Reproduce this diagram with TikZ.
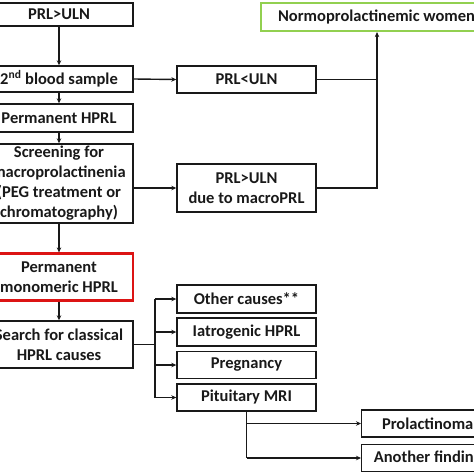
\documentclass[tikz,border=0pt]{standalone}
\usepackage{fontspec}
\setmainfont{Carlito}
\usetikzlibrary{arrows.meta}
\definecolor{boxred}{RGB}{220,20,20}
\definecolor{boxgreen}{RGB}{146,208,80}
\definecolor{ink}{RGB}{25,25,25}
\begin{document}
\begin{tikzpicture}[x=1pt,y=-1pt,
  every node/.style={font=\fontsize{16.5}{20}\selectfont\bfseries, text=ink, align=center, inner sep=0pt},
  lbox/.style={draw=ink, line width=1.4pt, minimum width=148pt},
  rbox/.style={draw=ink, line width=1.4pt, minimum width=139pt},
  fbox/.style={draw=ink, line width=1.4pt, minimum width=132pt, minimum height=27pt, anchor=west},
  arr/.style={draw=ink, line width=1.4pt, -{Stealth[length=5pt,width=4.5pt]}},
  ln/.style={draw=ink, line width=1.4pt}]
\useasboundingbox (0,0) rectangle (474,474);
\begin{scope}
\clip (0,0) rectangle (474,474);
% left column
\node[lbox, minimum height=23pt] (a) at (59,14.5) {PRL>ULN};
\node[lbox, minimum height=26pt] (b) at (59,79) {2\textsuperscript{nd} blood sample};
\node[lbox, minimum height=28pt] (c) at (59,118) {Permanent HPRL};
\node[lbox, minimum height=79pt] (d) at (59,183.5) {Screening for\\macroprolactinenia\\(PEG treatment or\\chromatography)};
\node[lbox, draw=boxred, line width=2.2pt, minimum height=47pt] (e) at (59,277) {Permanent\\monomeric HPRL};
\node[lbox, minimum height=47pt] (f) at (59,344.5) {Search for classical\\HPRL causes};
% right column
\node[rbox, minimum height=27pt] (g) at (246.5,79.5) {PRL<ULN};
\node[rbox, minimum height=48pt] (h) at (246.5,188) {PRL>ULN\\due to macroPRL};
\node[draw=boxgreen, line width=2.2pt, minimum height=28pt, anchor=west, inner xsep=17pt] (n) at (260,17) {Normoprolactinemic women};
\node[rbox, minimum height=28pt] (i1) at (246.5,299) {Other causes**};
\node[rbox, minimum height=28pt] (i2) at (246.5,332) {Iatrogenic HPRL};
\node[rbox, minimum height=27pt] (i3) at (246.5,365) {Pregnancy};
\node[rbox, minimum height=27pt] (i4) at (246.5,397.5) {Pituitary MRI};
\node[fbox] (p) at (361,423.5) {Prolactinoma};
\node[fbox] (q) at (361,458) {Another finding};
% connectors
\draw[arr] (a) -- (b);
\draw[arr] (b) -- (c);
\draw[arr] (c) -- (d);
\draw[arr] (d) -- (e);
\draw[arr] (e) -- (f);
\draw[arr] (b.east) -- (g.west);
\draw[arr] (d.east |- h.west) -- (h.west);
\coordinate (j) at (377,79.5);
\draw[ln] (g.east) -- (j);
\draw[arr] (h.east) -| (n.south -| j);
\coordinate (k) at (155,344.5);
\draw[ln] (f.east) -- (k);
\draw[ln] (k |- i1.west) -- (k |- i4.west);
\draw[arr] (k |- i1.west) -- (i1.west);
\draw[arr] (k |- i2.west) -- (i2.west);
\draw[arr] (k |- i3.west) -- (i3.west);
\draw[arr] (k |- i4.west) -- (i4.west);
\coordinate (m) at (i4.south);
\draw[ln] (m) -- (m |- q.west);
\draw[arr] (m |- p.west) -- (p.west);
\draw[arr] (m |- q.west) -- (q.west);
\end{scope}
\end{tikzpicture}
\end{document}
